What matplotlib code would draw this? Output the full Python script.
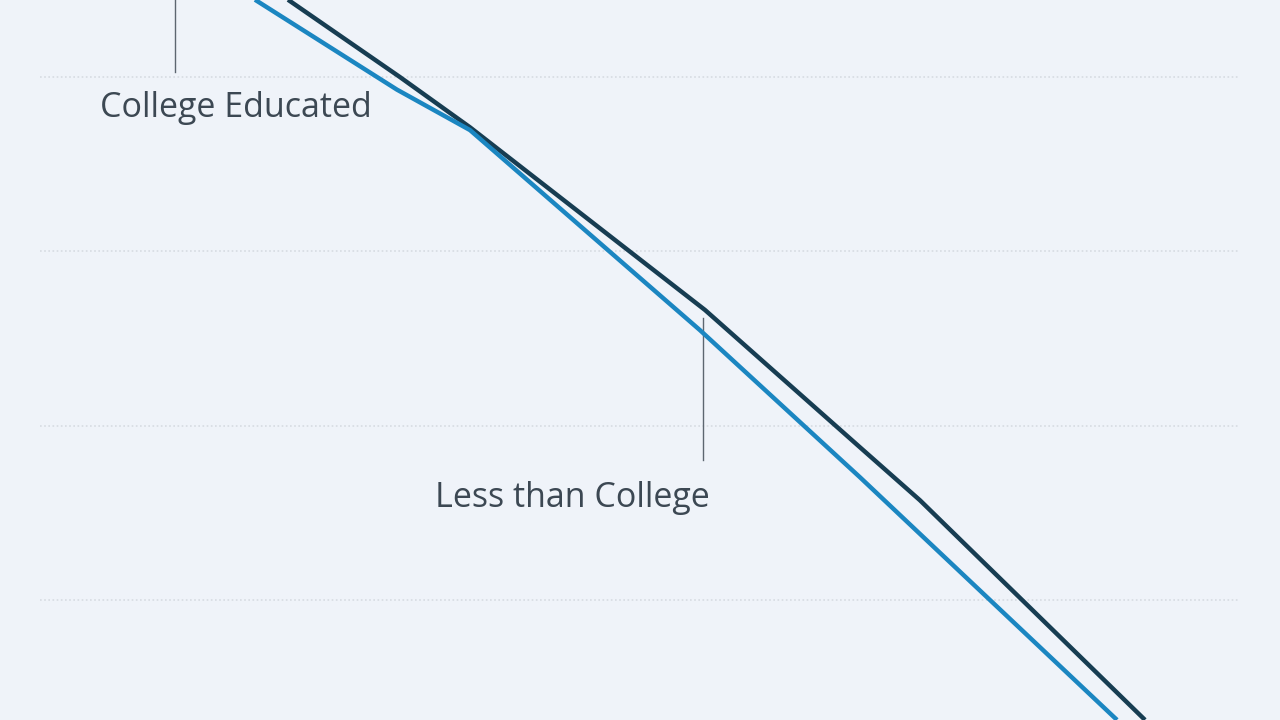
import matplotlib
matplotlib.use("Agg")
import matplotlib.pyplot as plt

# values (x in arbitrary time units, y in %)
college_x = [28.8, 40.0, 47.0, 70.5, 86.0, 92.0, 114.5]
college_y = [86.1, 75.0, 67.8, 41.6, 21.9, 14.3, -17.2]

less_x = [25.5, 39.7, 47.0, 70.0, 86.0, 111.7]
less_y = [86.1, 73.2, 67.4, 38.7, 17.6, -17.2]

grid_levels = [0, 25, 50, 75]

BG = "#eff3f9"
DARK = "#173d52"
BLUE = "#1b86c1"
TEXT = "#3c4853"

plt.rcParams["font.family"] = ["Open Sans", "DejaVu Sans"]

fig = plt.figure(figsize=(12.8, 7.2), dpi=100)
fig.patch.set_facecolor(BG)
ax = fig.add_axes([0, 0, 1, 1])
ax.set_facecolor(BG)
ax.set_xlim(0, 128)
ax.set_ylim(-17.21, 86.06)
ax.axis("off")

ax.hlines(grid_levels, 4, 124, colors="#d6dbe2", linestyles=(0, (1, 1.5)), linewidth=1.2, zorder=1)

ax.plot(college_x, college_y, color=DARK, linewidth=3.2, solid_capstyle="butt",
        solid_joinstyle="round", zorder=3)
ax.plot(less_x, less_y, color=BLUE, linewidth=3.2, solid_capstyle="butt",
        solid_joinstyle="round", zorder=4)

# annotation leaders
ax.plot([17.5, 17.5], [86.1, 75.7], color="#5d6670", linewidth=1.0, zorder=2)
ax.plot([70.3, 70.3], [40.4, 20.1], color="#5d6670", linewidth=1.0, zorder=2)

ax.text(23.55, 70.6, "College Educated", ha="center", va="center", fontsize=24.5, color=TEXT)
ax.text(57.2, 14.7, "Less than College", ha="center", va="center", fontsize=24.5, color=TEXT)

fig.savefig("out.png", dpi=100, facecolor=BG)
